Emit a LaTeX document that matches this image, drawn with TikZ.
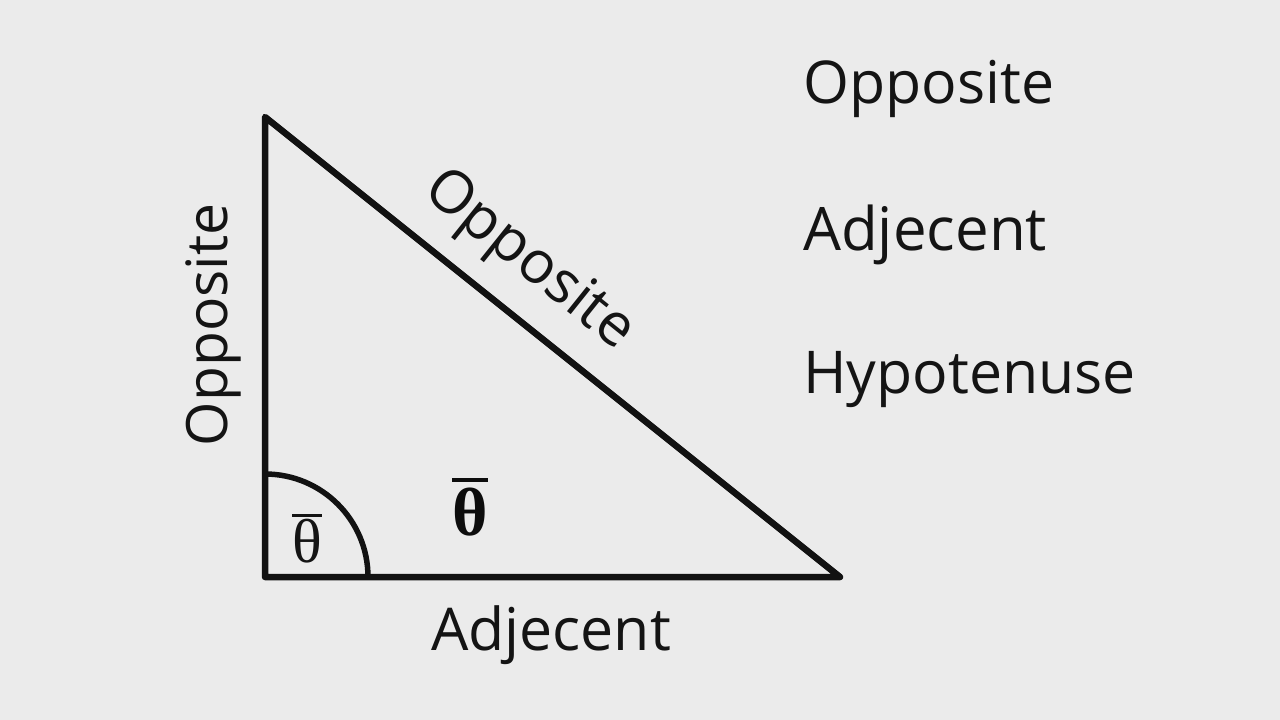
\documentclass[tikz,border=0pt]{standalone}
\usepackage{fontspec}
\setmainfont{Open Sans}
\newfontfamily\thfont{Liberation Serif}
\newcommand\barth[3]{\vbox{\hrule height #1\kern #2\hbox{#3}}}
\begin{document}
\begin{tikzpicture}[x=1pt,y=-1pt,
  lbl/.style={inner sep=0pt,anchor=base,text=black!92,font=\fontsize{59}{70}\selectfont},
  edge/.style={line width=6.5pt,draw=black!93,line join=round,line cap=round},
  thsmall/.style={inner sep=0pt,anchor=base,text=black!92,font=\thfont\fontsize{62}{70}\selectfont},
  thbold/.style={inner sep=0pt,anchor=base,text=black!95,font=\thfont\bfseries\fontsize{68}{70}\selectfont}]
\fill[black!8] (0,0) rectangle (1280,720);
\useasboundingbox (0,0) rectangle (1280,720);
\coordinate (A) at (265,117);
\coordinate (B) at (265,577);
\coordinate (C) at (840,577);
\coordinate (R) at (368,577);
\draw[edge] (A) -- (B) -- (C) -- cycle;
\draw[line width=5.5pt,draw=black!93] (R) arc[start angle=0,end angle=-90,radius=103];
\node[lbl,rotate=90,font=\fontsize{57}{70}\selectfont] (lopp) at (227,325) {Opposite};
\node[lbl,rotate=-38.66] (hopp) at (519,273) {Opposite};
\node[lbl] (badj) at (551,650) {Adjecent};
\node[lbl,anchor=base west] (r1) at (803,103) {Opposite};
\node[lbl,anchor=base west,font=\fontsize{60}{70}\selectfont] (r2) at (803,250) {Adjecent};
\node[lbl,anchor=base west] (r3) at (803,393) {Hypotenuse};
\node[thsmall] (t1) at (307,562) {\barth{3pt}{2pt}{θ}};
\node[thbold] (t2) at (470,535) {\barth{4pt}{5pt}{θ}};
\end{tikzpicture}
\end{document}
